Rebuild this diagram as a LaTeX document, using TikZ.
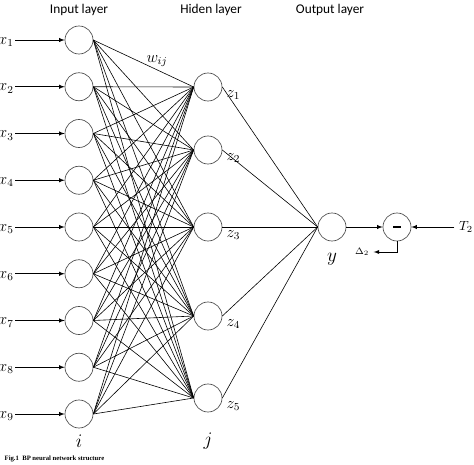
\documentclass[tikz,border=0pt]{standalone}
\usepackage{amsmath, amssymb}
\usepackage{fontspec}
\setmainfont{Carlito}
\newfontfamily\capfont{Liberation Serif}
\usetikzlibrary{arrows}

\tikzset{
  neuron/.style={draw=black!70, circle, minimum size=21pt, inner sep=0pt, line width=0.5pt},
  link/.style={line width=0.45pt, color=black},
  feed/.style={-latex, line width=0.45pt},
}

\begin{document}
\begin{tikzpicture}[x=0.75pt, y=-0.75pt]
      \useasboundingbox (0,0) rectangle (474,464);
      % \draw[line width=0.1mm, color=black!20] (0,0) grid[step=50] (474,464);

      \node (tin) at (79, 10) {Input layer};
      \node (thid) at (211, 10) {Hiden layer};
      \node (tout) at (330, 10) {Output layer};

      % input layer
      \foreach \k in {1,...,9} {
        \node[neuron] (x\k) at (79, {40+46.75*(\k-1)}) {};
        \coordinate (in\k) at (15, {40+46.75*(\k-1)});
        \node (lx\k) at (6, {42+46.75*(\k-1)}) {\large$x_{\k}$};
        \draw[feed] (in\k) -- (x\k);
      }

      % hidden layer
      \foreach \j/\yy in {1/87, 2/150, 3/227, 4/316, 5/398} {
        \node[neuron] (h\j) at (208, \yy) {};
        \node (lz\j) at ([shift={(11,8)}]h\j.east) {\large$z_{\j}$};
      }

      \foreach \k in {1,...,9}
        \foreach \j in {1,...,5}
          \draw[link] (x\k.east) -- (h\j.west);

      % output layer
      \node[neuron] (y) at (332, 227) {};
      \node[neuron] (err) at (397, 227) {\rule{6pt}{1.5pt}};
      \node (tt) at (466, 227) {$T_2$};
      \node (dd) at (362, 252) {\scriptsize$\Delta_2$};
      \coordinate (bend) at (397, 252);

      \foreach \j in {1,...,5}
        \draw[link] (h\j.east) -- (y.west);

      \draw[feed] (y) -- (err);
      \draw[feed] (tt) -- (err);
      \draw[feed] (err.south) -- (bend) -- (dd.east);

      \node (lw) at (157, 61) {\large$w_{ij}$};
      \node (ly) at (332, 259) {\Large$y$};
      \node (li) at (79, 441) {\Large$i$};
      \node (lj) at (208, 441) {\Large$j$};

      \node[anchor=west] (cap) at (0, 459) {\capfont\tiny\bfseries Fig.1\ \ BP neural network structure};
\end{tikzpicture}
\end{document}
